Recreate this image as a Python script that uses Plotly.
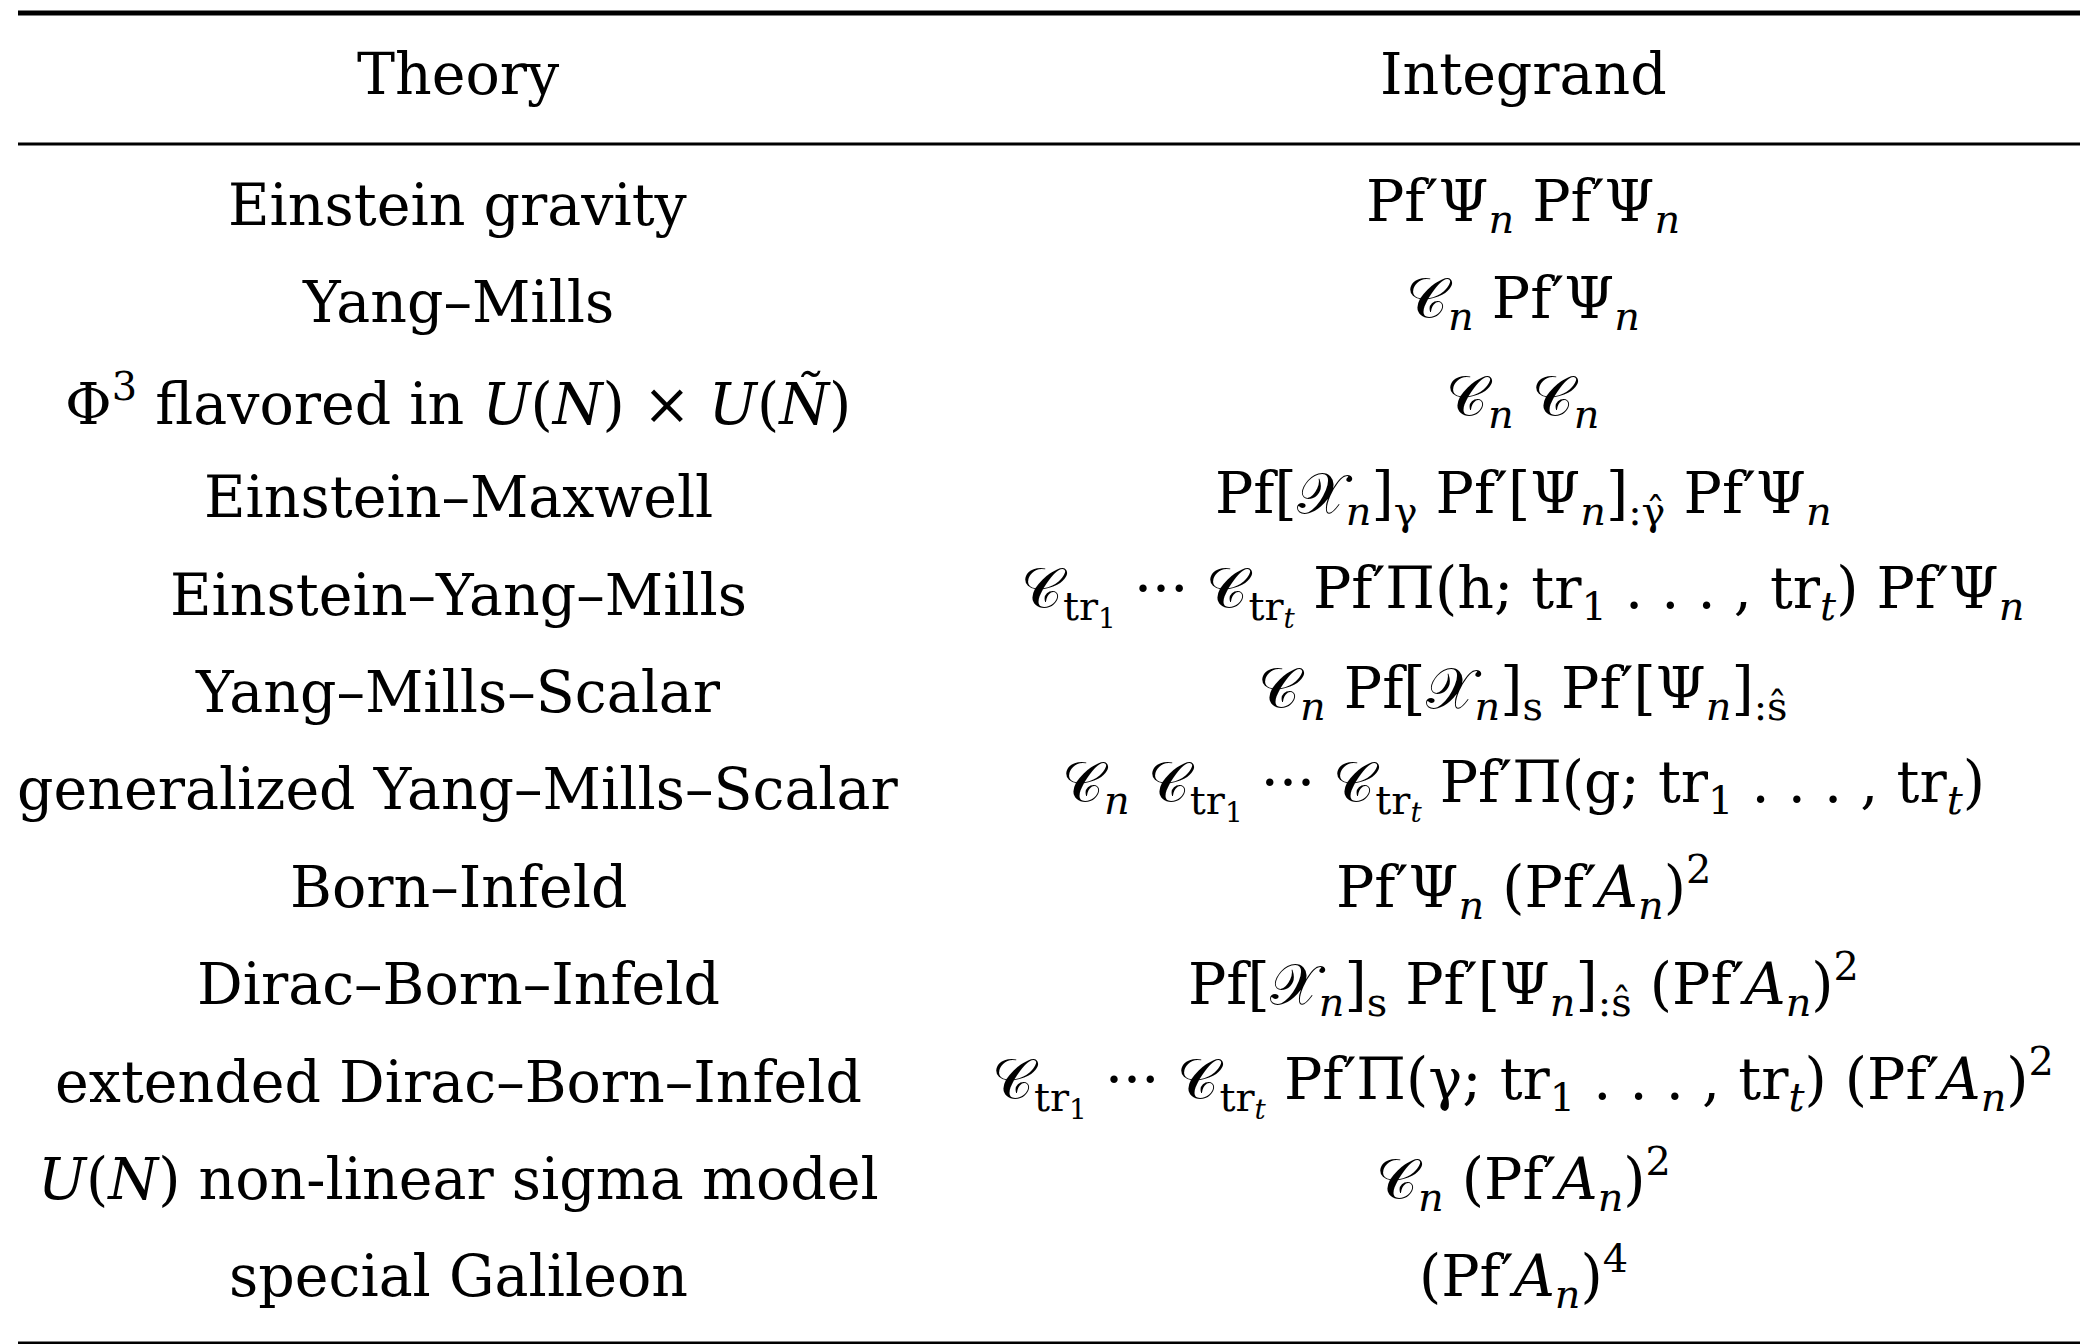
import plotly.graph_objects as go

headers = ["Theory", "Integrand"]
theories = [
    "Einstein gravity",
    "Yang–Mills",
    "Φ<sup>3</sup> flavored in <i>U</i>(<i>N</i>) × <i>U</i>(<i>Ñ</i>)",
    "Einstein–Maxwell",
    "Einstein–Yang–Mills",
    "Yang–Mills–Scalar",
    "generalized Yang–Mills–Scalar",
    "Born–Infeld",
    "Dirac–Born–Infeld",
    "extended Dirac–Born–Infeld",
    "<i>U</i>(<i>N</i>) non-linear sigma model",
    "special Galileon",
]
C = "𝒞"
X = "𝒳"
integrands = [
    "Pf′Ψ<sub><i>n</i></sub> Pf′Ψ<sub><i>n</i></sub>",
    f"{C}<sub><i>n</i></sub> Pf′Ψ<sub><i>n</i></sub>",
    f"{C}<sub><i>n</i></sub> {C}<sub><i>n</i></sub>",
    f"Pf[{X}<sub><i>n</i></sub>]<sub>γ</sub> Pf′[Ψ<sub><i>n</i></sub>]<sub>:γ̂</sub> Pf′Ψ<sub><i>n</i></sub>",
    f"{C}<sub>tr<sub>1</sub></sub> ··· {C}<sub>tr<sub><i>t</i></sub></sub> Pf′Π(h; tr<sub>1</sub> . . . , tr<sub><i>t</i></sub>) Pf′Ψ<sub><i>n</i></sub>",
    f"{C}<sub><i>n</i></sub> Pf[{X}<sub><i>n</i></sub>]<sub>s</sub> Pf′[Ψ<sub><i>n</i></sub>]<sub>:ŝ</sub>",
    f"{C}<sub><i>n</i></sub> {C}<sub>tr<sub>1</sub></sub> ··· {C}<sub>tr<sub><i>t</i></sub></sub> Pf′Π(g; tr<sub>1</sub> . . . , tr<sub><i>t</i></sub>)",
    "Pf′Ψ<sub><i>n</i></sub> (Pf′<i>A<sub>n</sub></i>)<sup>2</sup>",
    f"Pf[{X}<sub><i>n</i></sub>]<sub>s</sub> Pf′[Ψ<sub><i>n</i></sub>]<sub>:ŝ</sub> (Pf′<i>A<sub>n</sub></i>)<sup>2</sup>",
    f"{C}<sub>tr<sub>1</sub></sub> ··· {C}<sub>tr<sub><i>t</i></sub></sub> Pf′Π(γ; tr<sub>1</sub> . . . , tr<sub><i>t</i></sub>) (Pf′<i>A<sub>n</sub></i>)<sup>2</sup>",
    f"{C}<sub><i>n</i></sub> (Pf′<i>A<sub>n</sub></i>)<sup>2</sup>",
    "(Pf′<i>A<sub>n</sub></i>)<sup>4</sup>",
]

W, H = 2088, 1344
col_x = [450, 1515]
header_y = 66
row0, dy = 197, 97.4
font = dict(family="DejaVu Serif, Liberation Serif, serif", size=57, color="black")

fig = go.Figure()
ann = []
for j, h in enumerate(headers):
    ann.append(dict(x=col_x[j], y=header_y, text=h, showarrow=False, font=font,
                    xref="x", yref="y", xanchor="center", yanchor="middle"))
for i, (t, g) in enumerate(zip(theories, integrands)):
    y = row0 + i * dy
    for j, txt in enumerate([t, g]):
        ann.append(dict(x=col_x[j], y=y, text=txt, showarrow=False, font=font,
                        xref="x", yref="y", xanchor="center", yanchor="middle"))
shapes = [
    dict(type="line", x0=10, x1=2088, y0=5, y1=5, xref="x", yref="y", line=dict(color="black", width=5)),
    dict(type="line", x0=10, x1=2088, y0=136, y1=136, xref="x", yref="y", line=dict(color="black", width=3)),
    dict(type="line", x0=10, x1=2088, y0=1336, y1=1336, xref="x", yref="y", line=dict(color="black", width=5)),
]
fig.update_layout(width=W, height=H, margin=dict(l=0, r=0, t=0, b=0),
                  paper_bgcolor="white", plot_bgcolor="white",
                  annotations=ann, shapes=shapes,
                  xaxis=dict(range=[0, W], visible=False, fixedrange=True),
                  yaxis=dict(range=[H, 0], visible=False, fixedrange=True),
                  showlegend=False)
fig.write_html("out.html")
